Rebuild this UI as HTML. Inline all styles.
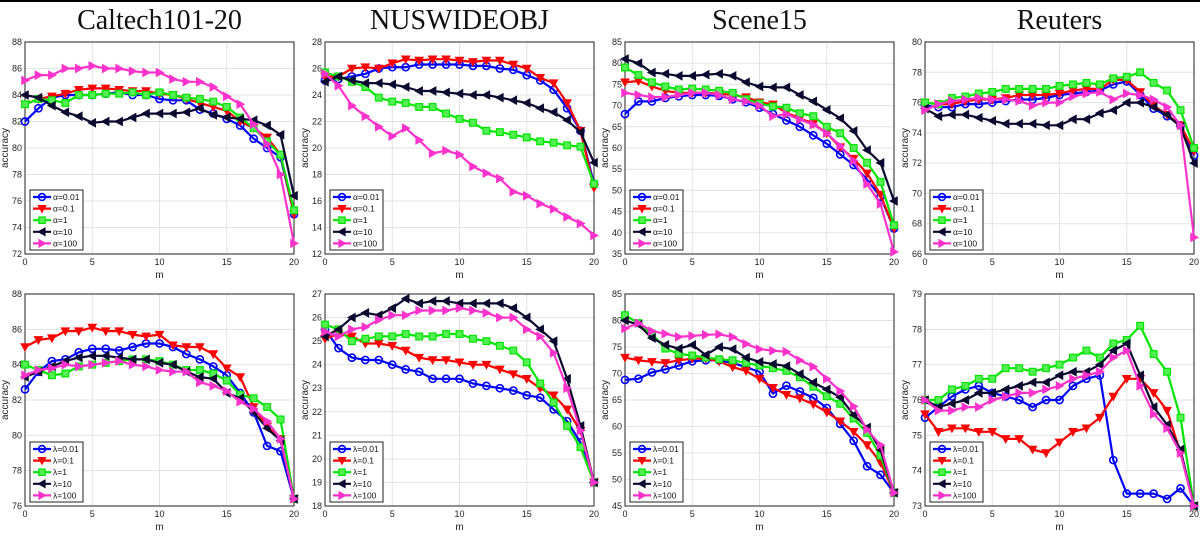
<!DOCTYPE html>
<html><head><meta charset="utf-8">
<style>
body{margin:0;background:#fff;width:1200px;height:533px;overflow:hidden}
svg text{font-family:"Liberation Sans",sans-serif}
</style></head><body>
<svg id="fig" width="1200" height="533" viewBox="0 0 1200 533" xmlns="http://www.w3.org/2000/svg">
<rect x="0" y="0" width="1200" height="2" fill="#000"/>
</svg>
<script>
const xVals=[0,1,2,3,4,5,6,7,8,9,10,11,12,13,14,15,16,17,18,19,20];
const xTicks=[0,5,10,15,20];
const titles=["Caltech101-20","NUSWIDEOBJ","Scene15","Reuters"];
const seriesColors=["#0000ff","#ff0000","#00e600","#0a0a30","#ff33cc"];
const alphaLabels=["α=0.01","α=0.1","α=1","α=10","α=100"];
const lambdaLabels=["λ=0.01","λ=0.1","λ=1","λ=10","λ=100"];
const yRanges=[[72,88,2],[12,28,2],[35,85,5],[66,80,2],[76,88,2],[18,27,1],[45,85,5],[73,79,1]];
const p1=[
[82,83,83.8,84,84,84,84.1,84.2,84,84,83.7,83.6,83.6,82.9,82.6,82.2,81.7,80.7,80,79.3,75],
[83.3,83.7,83.9,84.1,84.4,84.5,84.5,84.4,84.3,84.3,84.1,84,83.7,83.4,83.1,82.8,82,81.5,80.8,79.5,75],
[83.3,83.7,83.6,83.4,84,84,84.1,84.1,84.2,84,84.2,84,83.8,83.7,83.5,83.1,82.3,81.5,80.5,79.5,75.3],
[84,83.8,83.2,82.7,82.4,81.9,82,82,82.3,82.6,82.6,82.6,82.7,83,82.5,82.3,82.2,82.1,81.7,81,76.4],
[85.1,85.5,85.5,86,86,86.2,86,86,85.8,85.7,85.7,85.2,85,85,84.6,83.9,83.3,81.8,80.3,78,72.8]];
const p2=[
[25.1,25.2,25.4,25.6,26,26.1,26.1,26.3,26.3,26.3,26.3,26.2,26.2,26,25.9,25.5,25.1,24.4,23,21.3,17.3],
[25.4,25.4,26,26.1,26,26.4,26.7,26.6,26.7,26.7,26.6,26.5,26.6,26.6,26.3,26,25.3,24.9,23.4,21.3,17],
[25.7,25.4,25,24.6,23.8,23.5,23.4,23.1,23.1,22.6,22.2,21.9,21.3,21.2,21,20.8,20.5,20.4,20.2,20.1,17.3],
[25,25.4,25.1,24.9,24.9,24.8,24.6,24.3,24.3,24.2,24.1,24,24,23.8,23.6,23.4,23,22.7,22.1,21.2,18.9],
[25.6,24.7,23.2,22.4,21.6,20.9,21.5,20.6,19.6,19.8,19.5,18.6,18.1,17.7,16.7,16.4,15.8,15.4,14.8,14.3,13.4]];
const p3=[
[68,71,71,71.8,72.2,72.5,72.5,72.3,71.5,70.8,69.5,68,66.5,65,63,61,58.5,56,52.5,48.5,41],
[75.5,75.8,74.5,73.5,73,73,73,72.8,72.5,72,70.8,70.3,68.3,67,65.7,63.5,60.2,57.5,54,49,41],
[79,77.2,75.5,74.5,73.8,74,73.8,73.5,73,71.5,70.5,69.8,69.5,68.2,67.5,65,63.5,60,56.5,52,41.8],
[81,80,77.8,77.5,77,77,77.3,77.5,77,75.5,74.5,74.3,74.3,72.5,71,69,67,64,59.5,56.5,47.5],
[73,72.5,72,72,72.5,73,73,72.5,71.5,71,70,67.5,68,66.7,65.5,63.5,60.5,57,51.5,46.8,35.5]];
const p4=[
[75.8,75.7,75.7,75.9,75.9,76,76.1,76.2,76.2,76.3,76.5,76.6,76.7,76.8,77.2,77.4,76.5,75.6,75.1,74.5,72.5],
[76,75.9,75.9,76.1,76.2,76.2,76.3,76.5,76.5,76.5,76.6,76.8,76.9,76.9,77.5,77.5,76.7,75.8,75.2,74.5,72.8],
[76,75.9,76.3,76.4,76.6,76.7,76.9,76.9,76.9,76.9,77.1,77.2,77.3,77.2,77.6,77.7,78,77.3,76.8,75.5,73],
[75.6,75.1,75.2,75.2,75,74.8,74.6,74.6,74.6,74.5,74.5,74.9,74.9,75.3,75.5,76,76,75.7,75.2,74.4,72],
[75.5,75.9,76.1,76.2,76.3,76.2,76.2,76.1,75.8,76,76,76.4,76.6,76.7,76.2,76.6,76.5,76.2,75.7,74.5,67.1]];
const p5=[
[82.6,83.6,84.2,84.3,84.7,84.9,84.9,84.8,85,85.2,85.2,85,84.6,84.3,83.9,83.4,82.4,81.3,79.4,79.1,76.4],
[85,85.4,85.5,85.9,85.9,86.1,85.9,85.9,85.7,85.6,85.7,85.1,85,85,84.6,83.8,83.3,81.6,80.5,79.8,76.4],
[84,83.7,83.4,83.5,83.9,84,84.1,84.2,84.3,84.3,84.2,84,83.7,83.7,83.5,83.1,82.3,82.1,81.6,80.9,76.4],
[83.3,83.6,83.9,84.2,84.4,84.5,84.5,84.4,84.3,84.3,84.1,84,83.6,83.3,83.2,82.4,82.1,81.3,80.4,79.7,76.4],
[83.4,83.7,83.8,84,83.9,84,84.1,84.2,84,83.9,83.7,83.6,83.6,83,82.8,82.5,81.9,81.5,80.8,79.8,76.4]];
const p6=[
[25.5,24.7,24.3,24.2,24.2,24,23.8,23.7,23.4,23.4,23.4,23.2,23.1,23,22.9,22.7,22.6,22.1,21.6,20.7,19],
[25.1,25.3,25.2,24.9,24.9,24.8,24.6,24.3,24.2,24.2,24.1,24,24,23.8,23.6,23.4,23,22.7,22.1,21.2,19],
[25.7,25.5,25,25.1,25.2,25.2,25.3,25.2,25.2,25.3,25.3,25.1,25,24.8,24.6,24.1,23.2,22.4,21.4,20.5,19],
[25.2,25.5,26,26.2,26.1,26.4,26.8,26.6,26.7,26.7,26.6,26.6,26.6,26.6,26.4,26,25.5,25,23.4,21.4,19],
[25.4,25.2,25.5,25.6,25.9,26.1,26.1,26.3,26.3,26.3,26.4,26.3,26.2,26,26,25.5,25.2,24.5,23,21.2,19]];
const p7=[
[68.8,69,70.2,70.8,71.5,72.3,72.5,72.5,72,71.2,70.3,66.2,67.7,66.6,65.4,63.5,60.5,57.3,52.5,50.9,47.5],
[73,72.5,72.2,72,72.5,72.8,72.8,72.3,71.2,70.5,69,67.3,66,65.3,64.2,62.7,61,59,56.5,53.2,47.5],
[81,79.5,77.5,74.7,73.7,73.4,73,72.7,72.5,72,71.5,71,70.5,69.3,67.5,65.7,64.3,61.5,58.8,54.5,47.5],
[80,79.2,76.7,75.4,74.7,75.4,73.5,75,74.6,73,72.2,71.8,71.4,69.9,68.3,67,65.5,62.2,59.8,55.6,47.5],
[78.5,79.5,78,77.5,76.9,77.1,77.3,77.4,76.9,75.6,74.6,74.3,74.1,72.5,71.3,69,66.7,63.8,59.4,56.5,47.5]];
const p8=[
[75.5,75.8,76.1,76.3,76.4,76.2,76.1,76,75.8,76,76,76.4,76.6,76.7,74.3,73.35,73.35,73.35,73.2,73.5,73],
[75.6,75.1,75.2,75.2,75.1,75.1,74.9,74.9,74.6,74.5,74.8,75.1,75.2,75.5,76.1,76.6,76.6,76.2,75.7,74.5,73],
[76,76,76.3,76.4,76.6,76.6,76.9,76.9,76.8,76.9,77,77.2,77.4,77.2,77.6,77.7,78.1,77.3,76.8,75.5,73],
[76,75.8,75.9,76,76.2,76.2,76.3,76.4,76.5,76.5,76.7,76.8,76.8,77,77.4,77.6,76.7,75.8,75.3,74.6,73],
[76,75.7,75.7,75.8,75.8,76,76.1,76.2,76.2,76.3,76.4,76.6,76.7,76.8,77.2,77.4,76.4,75.6,75.2,74.5,73]];
const panels=[p1,p2,p3,p4,p5,p6,p7,p8];

const NS="http://www.w3.org/2000/svg";
const svg=document.getElementById('fig');
function mk(tag,attrs,parent){const e=document.createElementNS(NS,tag);for(const k in attrs)e.setAttribute(k,attrs[k]);(parent||svg).appendChild(e);return e;}

function marker(g,k,x,y,s){
  const c=seriesColors[k];let e;
  if(k===0){e=mk('circle',{cx:x,cy:y,r:s*0.85,fill:'none',stroke:c,'stroke-width':1.6},g);}
  else if(k===1){e=mk('polygon',{points:`${x-s},${y-s*0.8} ${x+s},${y-s*0.8} ${x},${y+s}`,fill:c,stroke:c,'stroke-width':0.8},g);}
  else if(k===2){e=mk('rect',{x:x-s*0.8,y:y-s*0.8,width:s*1.6,height:s*1.6,fill:'#55ee55',stroke:c,'stroke-width':1.2},g);}
  else if(k===3){e=mk('polygon',{points:`${x+s*0.8},${y-s} ${x+s*0.8},${y+s} ${x-s},${y}`,fill:c,stroke:c,'stroke-width':0.8},g);}
  else {e=mk('polygon',{points:`${x-s*0.8},${y-s} ${x-s*0.8},${y+s} ${x+s},${y}`,fill:c,stroke:c,'stroke-width':0.8},g);}
  
  
}

for(let p=0;p<8;p++){
  const col=p%4,row=Math.floor(p/4);
  const L=25+col*300,R=294+col*300;
  const T=row?294:42,B=row?506:254;
  const [ymin,ymax,ystep]=yRanges[p];
  const xs=v=>L+(v-0)/(20-0)*(R-L);
  const ys=v=>B-(v-ymin)/(ymax-ymin)*(B-T);
  const g=mk('g',{});
  
  
  mk('rect',{x:L,y:T,width:R-L,height:B-T,fill:'#fff'},g);
  // grid + ticks
  for(const t of xTicks){
    const x=xs(t);
    mk('line',{x1:x,x2:x,y1:T,y2:B,stroke:'#e3e3e3','stroke-width':1},g);
    const tx=mk('text',{x:x,y:B+11,'font-size':9,'text-anchor':'middle',fill:'#222'},g);
    tx.textContent=t;
    
    
  }
  for(let v=ymin;v<=ymax+1e-9;v+=ystep){
    const y=ys(v);
    mk('line',{x1:L,x2:R,y1:y,y2:y,stroke:'#e3e3e3','stroke-width':1},g);
    const ty=mk('text',{x:L-3,y:y+3,'font-size':9,'text-anchor':'end',fill:'#222'},g);
    ty.textContent=Math.round(v);
    
    
  }
  const box=mk('rect',{x:L,y:T,width:R-L,height:B-T,fill:'none',stroke:'#222','stroke-width':1},g);
  
  
  const xl=mk('text',{x:(L+R)/2,y:B+24,'font-size':10,'text-anchor':'middle',fill:'#222'},g);
  xl.textContent='m';
  
  
  const yl=mk('text',{x:0,y:0,'font-size':10,'text-anchor':'middle',fill:'#222',transform:`translate(${L-17},${(T+B)/2}) rotate(-90)`},g);
  yl.textContent='accuracy';
  
  
  if(row===0){
    const tt=mk('text',{x:(L+R)/2,y:29,'font-size':28,'text-anchor':'middle',fill:'#111',style:'font-family:"Liberation Serif",serif'},g);
    tt.textContent=titles[col];
    
    
  }
  // series
  const data=panels[p];
  for(let k=0;k<5;k++){
    const sg=mk('g',{},g);
    
    
    const pts=xVals.map((x,i)=>xs(x).toFixed(1)+','+ys(data[k][i]).toFixed(1)).join(' ');
    const pl=mk('polyline',{points:pts,fill:'none',stroke:seriesColors[k],'stroke-width':2.2,'stroke-linejoin':'round'},sg);
    
    
    xVals.forEach((x,i)=>marker(sg,k,xs(x),ys(data[k][i]),4.2));
  }
  // legend
  const lg=mk('g',{},g);
  
  
  const lx=L+5,ly=B-64;
  mk('rect',{x:lx,y:ly,width:53,height:60,fill:'#fff',stroke:'#222','stroke-width':1},lg);
  const labs=row?lambdaLabels:alphaLabels;
  for(let k=0;k<5;k++){
    const yy=ly+7+k*11.6;
    const it=mk('g',{},lg);
    
    
    mk('line',{x1:lx+3,x2:lx+21,y1:yy,y2:yy,stroke:seriesColors[k],'stroke-width':2.2},it);
    marker(it,k,lx+12,yy,4);
    const t=mk('text',{x:lx+23,y:yy+3,'font-size':8.5,fill:'#111'},it);
    t.textContent=labs[k];
  }
}
</script>
</body></html>
